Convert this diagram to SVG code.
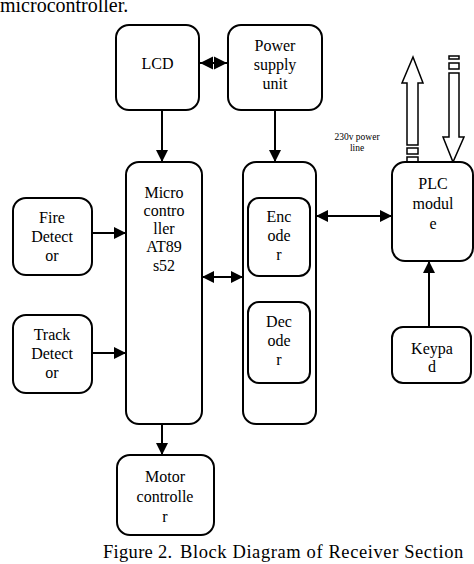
<svg xmlns="http://www.w3.org/2000/svg" width="474" height="564" viewBox="0 0 474 564">
<defs>
<style>
.box{fill:#fff;stroke:#000;stroke-width:2}
.ln{fill:none;stroke:#000;stroke-width:2}
.hol{fill:#fff;stroke:#000;stroke-width:1.5}
text{font-family:"Liberation Serif","Times New Roman",serif;fill:#000;text-anchor:middle}
.lbl{font-size:16px}
</style>
<marker id="ah" viewBox="0 0 10 10" refX="10" refY="5" markerWidth="6" markerHeight="6" markerUnits="strokeWidth" orient="auto-start-reverse">
<path d="M0,0 L10,5 L0,10 Z" fill="#000"/>
</marker>
<marker id="ahb" viewBox="0 0 10 10" refX="10" refY="5" markerWidth="6.5" markerHeight="7" markerUnits="strokeWidth" orient="auto-start-reverse">
<path d="M0,0 L10,5 L0,10 Z" fill="#000"/>
</marker>
</defs>
<rect width="474" height="564" fill="#fff"/>
<text x="0" y="12" style="font-size:20px;text-anchor:start">microcontroller.</text>

<g id="connectors">
<line class="ln" x1="200" y1="63" x2="227" y2="63" marker-start="url(#ahb)" marker-end="url(#ahb)"/>
<line class="ln" x1="162" y1="110" x2="162" y2="162" marker-end="url(#ah)"/>
<line class="ln" x1="275" y1="110" x2="275" y2="162" marker-end="url(#ah)"/>
<line class="ln" x1="92" y1="233" x2="126" y2="233" marker-end="url(#ah)"/>
<line class="ln" x1="92" y1="353" x2="126" y2="353" marker-end="url(#ah)"/>
<line class="ln" x1="202" y1="277" x2="243" y2="277" marker-start="url(#ah)" marker-end="url(#ah)"/>
<line class="ln" x1="316" y1="216" x2="392" y2="216" marker-start="url(#ah)" marker-end="url(#ah)"/>
<line class="ln" x1="162" y1="424" x2="162" y2="455" marker-end="url(#ah)"/>
<line class="ln" x1="429" y1="327" x2="429" y2="261" marker-end="url(#ah)"/>
<path class="hol" d="M413,57 L423,83 L418,83 L418,145 L407,145 L407,83 L402,83 Z"/>
<rect class="hol" x="407" y="148" width="11" height="6"/>
<rect class="hol" x="407" y="157" width="11" height="5"/>
<rect class="hol" x="449" y="56" width="10" height="3"/>
<rect class="hol" x="449" y="63" width="10" height="6"/>
<path class="hol" d="M449,73 L459,73 L459,137 L464,137 L453,162 L443,137 L449,137 Z"/>
</g>

<g id="lcd">
<rect class="box" x="116" y="25" width="83" height="85" rx="13"/>
<text class="lbl" x="157.5" y="69">LCD</text>
</g>
<g id="power">
<rect class="box" x="228" y="25" width="94" height="85" rx="13"/>
<text class="lbl" x="275" y="51">Power</text>
<text class="lbl" x="275" y="70">supply</text>
<text class="lbl" x="275" y="89">unit</text>
</g>
<g id="mcu">
<rect class="box" x="126" y="162" width="76" height="262" rx="13"/>
<text class="lbl" x="164" y="198">Micro</text>
<text class="lbl" x="164" y="216">contro</text>
<text class="lbl" x="164" y="234">ller</text>
<text class="lbl" x="164" y="252">AT89</text>
<text class="lbl" x="164" y="271">s52</text>
</g>
<g id="codec">
<rect class="box" x="243" y="162" width="73" height="262" rx="13"/>
</g>
<g id="encoder">
<rect class="box" x="248" y="198" width="62" height="78" rx="11"/>
<text class="lbl" x="279" y="222">Enc</text>
<text class="lbl" x="279" y="241">ode</text>
<text class="lbl" x="279" y="260">r</text>
</g>
<g id="decoder">
<rect class="box" x="248" y="302" width="62" height="81" rx="11"/>
<text class="lbl" x="279" y="327">Dec</text>
<text class="lbl" x="279" y="346">ode</text>
<text class="lbl" x="279" y="365">r</text>
</g>
<g id="fire">
<rect class="box" x="13" y="198" width="79" height="77" rx="13"/>
<text class="lbl" x="52" y="223">Fire</text>
<text class="lbl" x="52" y="242">Detect</text>
<text class="lbl" x="52" y="261">or</text>
</g>
<g id="track">
<rect class="box" x="13" y="315" width="79" height="78" rx="13"/>
<text class="lbl" x="52" y="340">Track</text>
<text class="lbl" x="52" y="359">Detect</text>
<text class="lbl" x="52" y="378">or</text>
</g>
<g id="motor">
<rect class="box" x="117" y="455" width="97" height="80" rx="13"/>
<text class="lbl" x="165" y="482">Motor</text>
<text class="lbl" x="165" y="502">controlle</text>
<text class="lbl" x="165" y="522">r</text>
</g>
<g id="plc">
<rect class="box" x="392" y="162" width="81" height="99" rx="13"/>
<text class="lbl" x="433" y="189">PLC</text>
<text class="lbl" x="433" y="209">modul</text>
<text class="lbl" x="433" y="229">e</text>
</g>
<g id="keypad">
<rect class="box" x="392" y="327" width="79" height="56" rx="11"/>
<text class="lbl" x="432" y="354">Keypa</text>
<text class="lbl" x="432" y="372">d</text>
</g>
<text x="357" y="140" style="font-size:9.5px">230v power</text>
<text x="357" y="151" style="font-size:9.5px">line</text>
<text x="103" y="558" style="font-size:18.5px;text-anchor:start;letter-spacing:0.3px">Figure 2.<tspan x="180" style="letter-spacing:0.6px">Block Diagram of Receiver Section</tspan></text>
</svg>
